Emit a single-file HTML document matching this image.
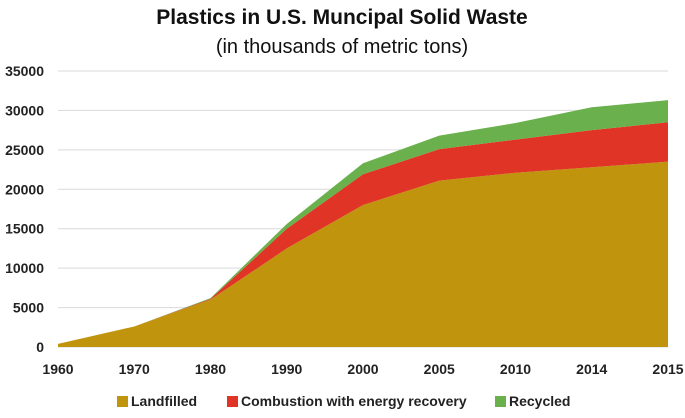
<!DOCTYPE html>
<html><head><meta charset="utf-8"><style>
body{margin:0;background:#fff;font-family:"Liberation Sans",sans-serif}
svg text{font-family:"Liberation Sans",sans-serif}
</style></head><body>
<svg id="chart" width="685" height="413">
<text x="342" y="24" text-anchor="middle" font-size="21" font-weight="bold" fill="#111">Plastics in U.S. Muncipal Solid Waste</text>
<text x="342" y="53" text-anchor="middle" font-size="20" fill="#111">(in thousands of metric tons)</text>
<g id="grid"></g><g id="areas"></g><g id="axes"></g>
<g>
<rect x="117" y="396" width="11" height="11" fill="#c0940c"/>
<text x="131" y="406" font-size="14" font-weight="bold" fill="#222">Landfilled</text>
<rect x="227" y="396" width="11" height="11" fill="#e03426"/>
<text x="241" y="406" font-size="14" font-weight="bold" fill="#222">Combustion with energy recovery</text>
<rect x="495" y="396" width="11" height="11" fill="#6ab04c"/>
<text x="509" y="406" font-size="14" font-weight="bold" fill="#222">Recycled</text>
</g>
</svg>
<script>
const categories=["1960","1970","1980","1990","2000","2005","2010","2014","2015"];
const landfilled=[390,2600,6000,12500,18000,21100,22100,22800,23500];
const combustion=[0,0,100,2500,3900,4000,4200,4700,5000];
const recycled=[0,0,100,600,1400,1700,2100,2900,2800];
const yTicks=[0,5000,10000,15000,20000,25000,30000,35000];
const NS="http://www.w3.org/2000/svg";
const x0=58,x1=668,yb=347,yt=71,ymax=35000;
function xs(i){return x0+(x1-x0)*i/(categories.length-1);}
function ys(v){return yb-(yb-yt)*v/ymax;}
function mk(t,a,p){const e=document.createElementNS(NS,t);for(const k in a)e.setAttribute(k,a[k]);p.appendChild(e);return e;}
const grid=document.getElementById('grid'),axes=document.getElementById('axes'),areas=document.getElementById('areas');
yTicks.forEach(v=>{
 const l=mk('line',{x1:x0,x2:x1,y1:ys(v),y2:ys(v),stroke:'#d9d9d9','stroke-width':1},grid);
 
 
 const t=mk('text',{x:44,y:ys(v)+5,'text-anchor':'end','font-size':14,'font-weight':'bold',fill:'#222'},axes);
 t.textContent=v;
 
 
});
categories.forEach((c,i)=>{
 const t=mk('text',{x:xs(i),y:374,'text-anchor':'middle','font-size':14,'font-weight':'bold',fill:'#222'},axes);
 t.textContent=c;
 
 
});
const series=[[landfilled,'#c0940c','area-landfilled'],[combustion,'#e03426','area-combustion'],[recycled,'#6ab04c','area-recycled']];
let base=categories.map(()=>0);
series.forEach(([vals,col,name])=>{
 const top=base.map((b,i)=>b+vals[i]);
 let d='M'+categories.map((c,i)=>xs(i)+','+ys(top[i])).join('L');
 for(let i=categories.length-1;i>=0;i--)d+='L'+xs(i)+','+ys(base[i]);
 const p=mk('path',{d:d+'Z',fill:col},areas);
 
 
 base=top;
});
</script>
</body></html>
